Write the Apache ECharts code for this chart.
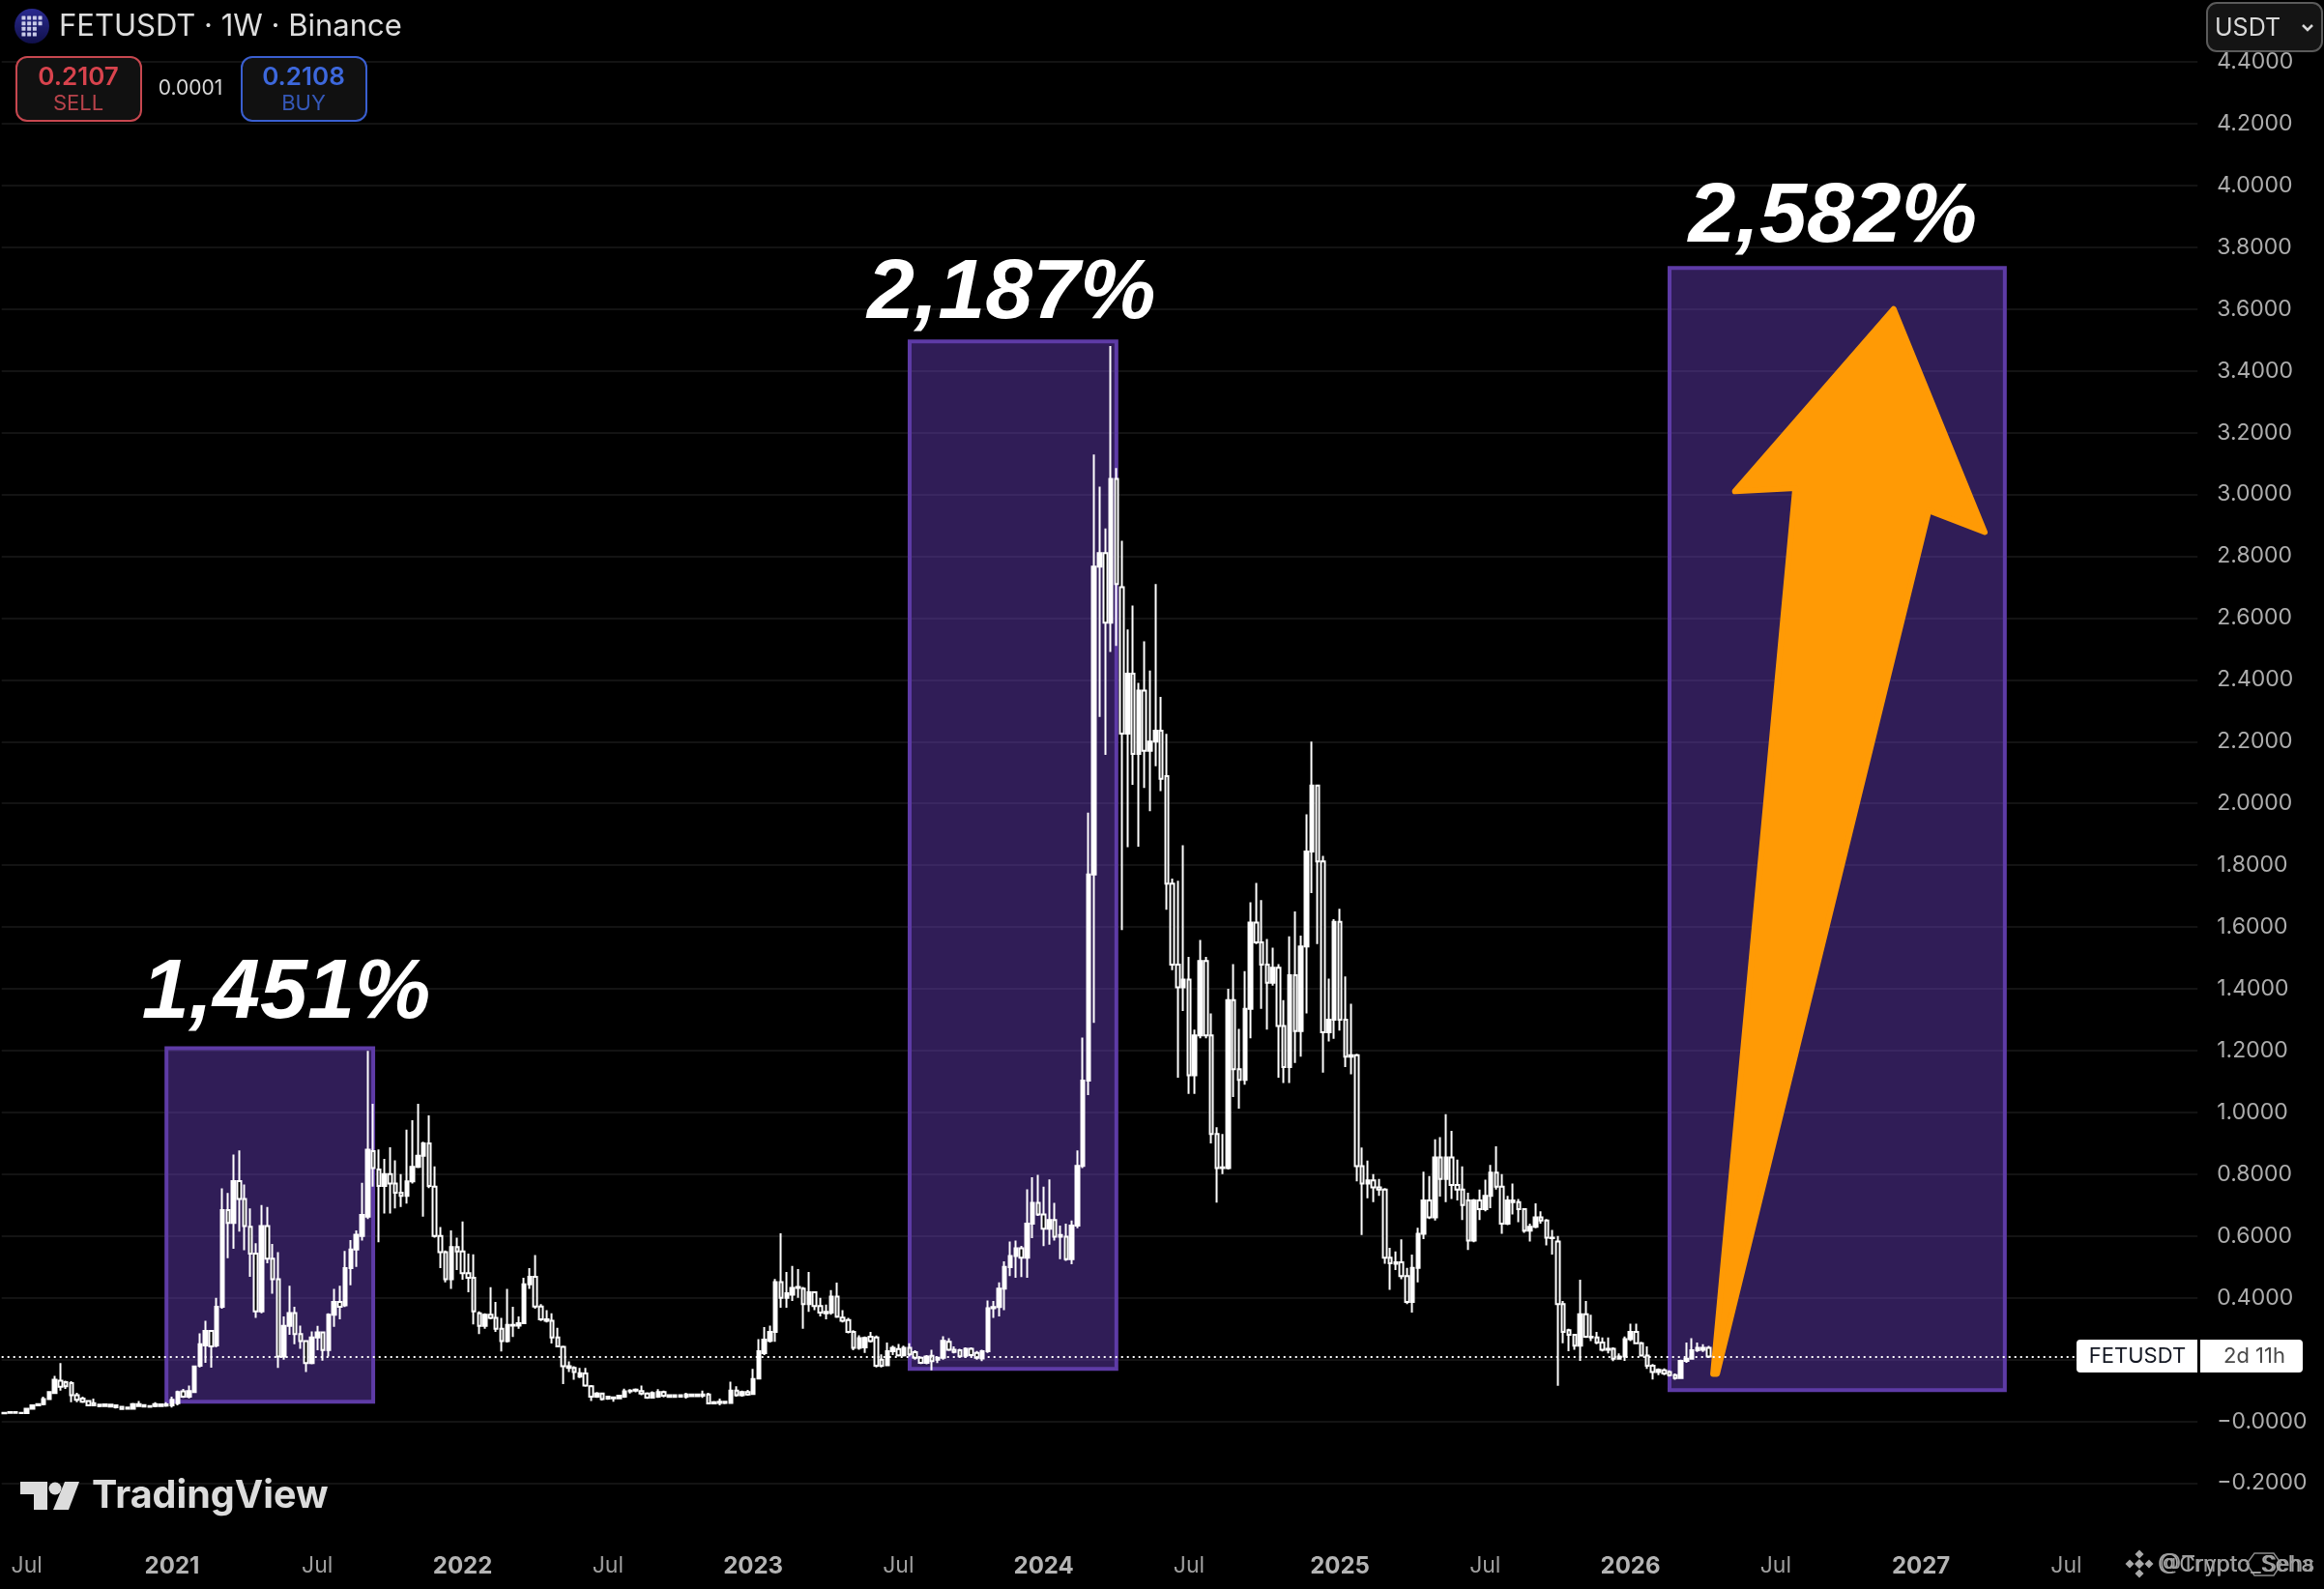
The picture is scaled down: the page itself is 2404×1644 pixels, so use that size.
<!DOCTYPE html>
<html><head><meta charset="utf-8">
<style>html,body{margin:0;padding:0;background:#000}#c{width:2404px;height:1644px}</style>
<script src="https://cdn.jsdelivr.net/npm/echarts@6/dist/echarts.min.js"></script>
</head><body><div id="c"></div>
<script>
// weekly candles: [open, close, low, high], first week starting 2020-06-08
const totalWeeks = 393;
const ohlc = [
[.026,.028,.025,.03],[.028,.03,.027,.032],[.03,.028,.027,.031],[.028,.027,.025,.03],
[.027,.041,.026,.042],[.041,.052,.04,.054],[.052,.056,.05,.058],[.056,.072,.052,.08],[.072,.095,.07,.097],
[.092,.135,.09,.147],[.132,.112,.1,.189],[.127,.114,.105,.132],[.124,.085,.062,.13],[.085,.07,.062,.093],
[.074,.064,.06,.08],[.066,.052,.05,.069],[.059,.052,.05,.074],[.054,.05,.046,.056],[.055,.05,.047,.057],
[.054,.048,.045,.056],[.052,.046,.042,.054],[.047,.04,.037,.05],[.045,.041,.038,.048],[.041,.056,.04,.06],
[.05,.056,.048,.066],[.053,.048,.046,.056],[.05,.047,.044,.052],[.05,.056,.046,.062],[.055,.05,.047,.058],
[.051,.055,.047,.062],
// 2021
[.052,.07,.045,.08],[.059,.095,.052,.1],[.097,.08,.076,.105],[.08,.098,.075,.116],[.095,.178,.093,.18],
[.18,.25,.175,.285],[.246,.293,.19,.326],[.293,.243,.174,.295],[.246,.371,.24,.40],[.371,.684,.365,.754],
[.684,.642,.528,.739],[.642,.778,.559,.864],[.778,.72,.614,.877],[.72,.632,.554,.767],[.63,.543,.468,.689],
[.543,.356,.335,.577],[.356,.632,.35,.70],[.632,.527,.512,.694],[.527,.46,.413,.574],[.46,.21,.173,.548],
[.21,.309,.2,.34],[.309,.351,.28,.439],[.351,.283,.25,.371],[.283,.26,.235,.31],[.26,.189,.16,.262],
[.189,.272,.185,.291],[.272,.288,.23,.309],[.288,.231,.197,.29],[.231,.345,.21,.35],[.345,.387,.306,.429],
[.387,.371,.33,.439],[.376,.496,.37,.552],[.496,.556,.441,.587],[.556,.604,.50,.618],[.60,.668,.585,.772],
[.663,.879,.655,1.199],[.875,.82,.76,1.028],[.815,.762,.58,.88],[.762,.80,.673,.85],[.80,.77,.673,.887],
[.77,.74,.689,.845],[.74,.73,.694,.80],[.73,.777,.705,.944],[.777,.824,.77,.975],[.824,.86,.82,1.028],
[.86,.90,.663,.905],[.90,.762,.755,.99],[.76,.60,.595,.825],
// 2022
[.60,.548,.496,.629],[.548,.46,.45,.553],[.46,.564,.429,.618],[.564,.55,.49,.595],[.55,.48,.459,.647],
[.48,.465,.418,.543],[.465,.356,.314,.541],[.35,.309,.283,.356],[.309,.345,.30,.35],[.345,.335,.33,.434],
[.335,.30,.29,.387],[.30,.26,.226,.335],[.26,.312,.255,.429],[.312,.31,.273,.371],[.31,.318,.30,.34],
[.318,.444,.315,.465],[.444,.468,.429,.496],[.468,.372,.365,.538],[.372,.33,.325,.38],[.33,.326,.32,.36],
[.326,.272,.252,.35],[.272,.243,.24,.303],[.241,.179,.121,.245],[.179,.173,.16,.194],[.173,.16,.135,.179],
[.145,.156,.14,.173],[.155,.116,.112,.173],[.114,.08,.066,.118],[.08,.09,.076,.095],[.09,.072,.068,.093],
[.08,.074,.07,.083],[.078,.075,.064,.08],[.075,.083,.073,.086],[.08,.097,.076,.106],[.097,.1,.09,.104],
[.1,.103,.094,.107],[.098,.09,.085,.116],[.09,.077,.073,.094],[.077,.092,.074,.097],[.08,.095,.076,.104],
[.095,.083,.078,.1],[.085,.079,.076,.087],[.079,.085,.077,.088],[.085,.08,.078,.087],[.08,.087,.074,.093],
[.087,.082,.079,.09],[.082,.087,.079,.09],[.083,.087,.076,.1],[.087,.058,.056,.093],[.058,.062,.055,.066],
[.06,.064,.052,.074],[.06,.064,.056,.066],[.06,.1,.058,.129],[.1,.085,.08,.114],[.085,.095,.08,.1],
[.095,.087,.083,.102],
// 2023
[.089,.137,.087,.17],[.139,.227,.137,.266],[.221,.265,.215,.305],[.261,.29,.255,.31],[.29,.451,.258,.461],
[.451,.40,.368,.609],[.40,.415,.368,.484],[.41,.432,.39,.503],[.432,.435,.40,.493],[.43,.38,.30,.435],
[.38,.418,.355,.484],[.418,.373,.36,.42],[.373,.352,.34,.40],[.355,.35,.33,.378],[.352,.404,.345,.425],
[.404,.339,.335,.449],[.336,.326,.32,.36],[.328,.29,.285,.335],[.29,.238,.23,.295],[.238,.269,.232,.279],
[.24,.27,.222,.275],[.274,.26,.255,.29],[.272,.18,.175,.278],[.2,.18,.175,.217],[.182,.227,.18,.255],
[.227,.238,.215,.245],[.234,.214,.21,.251],[.214,.238,.21,.245],[.238,.217,.21,.253],[.224,.206,.2,.23],
[.206,.19,.186,.21],[.19,.21,.185,.215],[.212,.195,.165,.232],[.2,.206,.189,.21],[.206,.261,.2,.276],
[.258,.232,.228,.269],[.232,.225,.22,.243],[.23,.211,.207,.235],[.212,.235,.205,.24],[.235,.215,.21,.24],
[.222,.206,.2,.228],[.204,.227,.195,.232],[.227,.366,.222,.391],[.366,.37,.335,.39],[.37,.43,.34,.45],
[.43,.5,.36,.518],[.499,.535,.47,.582],[.535,.56,.465,.585],[.56,.53,.467,.568],[.53,.64,.465,.751],
[.64,.707,.593,.79],[.707,.67,.665,.798],
// 2024
[.67,.624,.567,.76],[.624,.652,.572,.783],[.652,.598,.585,.707],[.598,.603,.525,.634],[.598,.525,.52,.64],
[.525,.634,.509,.65],[.634,.827,.625,.877],[.827,1.103,.82,1.242],[1.103,1.77,1.056,1.97],[1.77,2.766,1.29,3.129],
[2.766,2.81,2.28,3.025],[2.81,2.585,2.157,2.89],[2.585,3.05,2.49,3.48],[3.05,2.71,2.51,3.085],[2.70,2.226,1.59,2.85],
[2.226,2.42,1.858,2.563],[2.42,2.16,2.06,2.64],[2.16,2.365,1.86,2.39],[2.365,2.17,2.05,2.525],[2.17,2.2,1.975,2.43],
[2.2,2.235,2.12,2.71],[2.235,2.08,2.04,2.345],[2.088,1.74,1.656,2.225],[1.74,1.478,1.46,1.757],[1.478,1.405,1.112,1.75],
[1.405,1.43,1.328,1.865],[1.43,1.12,1.06,1.503],[1.12,1.249,1.06,1.268],[1.249,1.49,1.24,1.558],[1.49,1.249,1.24,1.503],
[1.249,.93,.90,1.32],[.93,.82,.708,.952],[.82,.822,.80,.93],[.82,1.363,.815,1.40],[1.363,1.14,1.05,1.48],
[1.14,1.105,1.012,1.27],[1.105,1.335,1.09,1.457],[1.335,1.614,1.24,1.68],[1.614,1.55,1.545,1.743],[1.55,1.478,1.335,1.687],
[1.478,1.42,1.268,1.561],[1.42,1.468,1.41,1.533],[1.468,1.28,1.112,1.48],[1.28,1.147,1.095,1.363],[1.147,1.444,1.095,1.57],
[1.444,1.263,1.16,1.65],[1.263,1.537,1.18,1.572],[1.537,1.844,1.32,1.965],[1.844,2.058,1.71,2.2],[2.058,1.812,1.545,2.06],
[1.812,1.259,1.129,1.83],
// 2025
[1.259,1.3,1.23,1.433],[1.3,1.617,1.238,1.625],[1.617,1.30,1.265,1.659],[1.30,1.18,1.147,1.44],[1.18,1.185,1.123,1.352],
[1.185,.826,.777,1.19],[.826,.77,.603,.886],[.77,.78,.722,.844],[.78,.757,.71,.80],[.757,.75,.73,.785],
[.75,.53,.51,.755],[.53,.512,.426,.562],[.515,.51,.49,.55],[.515,.47,.46,.589],[.47,.387,.38,.497],
[.387,.497,.352,.54],[.497,.607,.45,.627],[.607,.715,.59,.808],[.715,.66,.655,.794],[.66,.854,.65,.913],
[.854,.785,.728,.92],[.785,.854,.71,.994],[.854,.765,.72,.94],[.765,.75,.715,.847],[.75,.70,.652,.825],
[.715,.585,.555,.74],[.585,.715,.58,.72],[.715,.687,.652,.75],[.687,.73,.68,.782],[.73,.805,.69,.83],
[.805,.76,.75,.89],[.76,.64,.607,.80],[.64,.715,.635,.73],[.715,.71,.67,.77],[.71,.687,.645,.72],
[.687,.617,.61,.69],[.617,.63,.582,.64],[.63,.66,.625,.706],[.66,.65,.64,.68],[.65,.595,.57,.655],
[.595,.593,.54,.62],[.582,.38,.115,.60],[.38,.29,.253,.39],[.295,.28,.227,.30],[.28,.245,.232,.28],
[.245,.347,.196,.459],[.347,.274,.27,.39],[.274,.272,.26,.345],[.272,.255,.25,.29],[.255,.232,.226,.272],
[.232,.235,.22,.272],[.235,.203,.195,.24],
// 2026
[.203,.21,.2,.22],[.21,.266,.196,.275],[.266,.29,.26,.316],[.29,.253,.25,.316],[.253,.213,.21,.258],
[.213,.18,.17,.243],[.18,.16,.136,.186],[.16,.167,.15,.172],[.165,.155,.15,.172],[.16,.15,.145,.165],
[.15,.14,.135,.155],[.14,.196,.138,.2],[.196,.203,.19,.255],[.203,.23,.2,.269],[.23,.238,.225,.255],
[.238,.232,.225,.25],[.238,.21,.205,.244],[.21,.2107,.2,.215]
];
const lastPrice = 0.2107;
// the three highlighted rallies
const boxStartWeeks = ['2020-12-28', '2023-07-17', '2026-02-23'];
const boxEndWeeks   = ['2021-09-13', '2024-04-01', '2027-04-19'];
const boxTops    = [1.208, 3.495, 3.733];
const boxBottoms = [0.064, 0.17, 0.1016];
// callouts: week position (weeks since 2021-01-04), price, text
const calloutWeeks  = [20.4, 150.2, 297.2];
const calloutPrices = [1.381, 3.647, 3.893];
const calloutTexts  = ['1,451%', '2,187%', '2,582%'];
// projection arrow vertices: weeks since 2021-01-04, price
const arrowWeeks  = [308.1, 324.4, 314.4, 276.5, 275.8, 290.5, 279.7];
const arrowPrices = [3.6, 2.878, 2.948, 0.154, 0.154, 3.02, 3.01];
const xTickDates  = ['2020-07-06','2021-01-04','2021-07-05','2022-01-03','2022-07-04','2023-01-02','2023-07-03','2024-01-01','2024-07-01','2025-01-06','2025-07-07','2026-01-05','2026-07-06','2027-01-04','2027-07-05'];
const xTickLabels = ['Jul','2021','Jul','2022','Jul','2023','Jul','2024','Jul','2025','Jul','2026','Jul','2027','Jul'];

const WEEK_PX = 5.78, ORIGIN = -30.5;  // first band edge, in weeks from 2021-01-04
const categories = [];
for (let k = 0; k < totalWeeks; k++) {
  categories.push(new Date(Date.UTC(2020, 5, 8 + 7 * k)).toISOString().slice(0, 10));
}
const tickMap = {};
xTickDates.forEach((d, i) => tickMap[d] = xTickLabels[i]);

const FONT = 'Inter';
const chart = echarts.init(document.getElementById('c'), null, {renderer: 'canvas', width: 2404, height: 1644});

function T(x, y, text, size, fill, weight, align, z) {
  return {type: 'text', x, y, z: z || 100, silent: true,
    style: {text, fill, font: `${weight || 400} ${size}px ${FONT}`, align: align || 'left', verticalAlign: 'middle'}};
}
function R(x, y, w, h, r, fill, stroke, lw, z) {
  return {type: 'rect', z: z || 99, silent: true, shape: {x, y, width: w, height: h, r},
    style: {fill, stroke: stroke || 'transparent', lineWidth: lw || 0}};
}
function P(points, fill, z) {
  return {type: 'polygon', z: z || 100, silent: true, shape: {points}, style: {fill}};
}
function D(cx, cy, s, fill, z) {
  return P([[cx, cy - s], [cx + s, cy], [cx, cy + s], [cx - s, cy]], fill, z);
}

const dots = [];
[[-9,-9],[-3,-9],[3,-9],[9,-9],[-9,-3],[-3,-3],[3,-3],[9,-3],[-9,3],[-3,3],[3,3],[-9,9],[-3,9],[3,9]].forEach(d => {
  dots.push(R(33 + d[0] * 0.95 - 2, 27 + d[1] * 0.95 - 2, 4, 4, 0.5, '#c9cbe8', null, 0, 101));
});

const graphics = [
  {type: 'circle', z: 100, silent: true, shape: {cx: 33, cy: 27, r: 18},
   style: {fill: new echarts.graphic.LinearGradient(0, 0, 0, 1, [{offset: 0, color: '#2a2a90'}, {offset: 1, color: '#10104a'}])}},
  ...dots,
  T(61, 28, 'FETUSDT · 1W · Binance', 31, '#dedede'),
  R(17, 59, 129, 66, 11, '#111111', '#c7474f', 2),
  T(81, 80, '0.2107', 26, '#d8434d', 600, 'center'),
  T(81, 107, 'SELL', 22, '#b8434b', 400, 'center'),
  T(197, 92, '0.0001', 21, '#d8d8d8', 400, 'center'),
  R(250, 59, 129, 66, 11, '#111111', '#3a5fd0', 2),
  T(314, 80, '0.2108', 26, '#3d68dc', 600, 'center'),
  T(314, 107, 'BUY', 22, '#3558b8', 400, 'center'),
  R(2283, 3, 119, 50, 10, '#141414', '#5a5a5a', 2),
  T(2291, 29, 'USDT', 25, '#d8d8d8'),
  {type: 'polyline', z: 101, silent: true, shape: {points: [[2382, 26], [2387, 31], [2392, 26]]},
   style: {stroke: '#d8d8d8', lineWidth: 2.5, fill: null}},
  R(2148, 1386, 234, 34, 4, '#ffffff'),
  R(2273, 1386, 3, 34, 0, '#000000', null, 0, 100),
  T(2211, 1403, 'FETUSDT', 22, '#131722', 400, 'center', 101),
  T(2332, 1403, '2d 11h', 22, '#4a4a4a', 400, 'center', 101),
  P([[21,1533],[49,1533],[49,1562],[35,1562],[35,1546],[21,1546]], '#dcdcdc'),
  {type: 'circle', z: 100, silent: true, shape: {cx: 57, cy: 1540, r: 6.5}, style: {fill: '#dcdcdc'}},
  P([[67,1533],[82,1533],[71,1562],[55,1562]], '#dcdcdc'),
  T(95, 1548, 'TradingView', 39.5, '#dcdcdc', 700),
  // watermark
  D(2213, 1618, 5, '#a8a8a8'), D(2213, 1608, 4.5, '#a8a8a8'), D(2213, 1628, 4.5, '#a8a8a8'),
  D(2203, 1618, 4.5, '#a8a8a8'), D(2223, 1618, 4.5, '#a8a8a8'),
  {type: 'polygon', z: 100, silent: true, shape: {points: [[2332,1607],[2352,1607],[2360,1618],[2352,1630],[2332,1630],[2324,1618]]},
   style: {fill: null, stroke: '#8a8a8a', lineWidth: 1.5}},
  T(2232, 1619, '@Crypto_Seha', 23, '#a8a8a8', 400, 'left', 102),
  T(2234, 1619, '@Trnpto  Sehs', 23, '#9c9c9c', 400, 'left', 102)
];

chart.setOption({
  animation: false,
  backgroundColor: '#000000',
  grid: {left: 1.7, top: -1.5, width: totalWeeks * WEEK_PX, height: 1600, containLabel: false},
  xAxis: [{
    type: 'category', data: categories, boundaryGap: true,
    axisLine: {show: false}, axisTick: {show: false}, splitLine: {show: false},
    axisLabel: {
      interval: (idx, val) => tickMap[val] !== undefined,
      hideOverlap: false, margin: 10,
      formatter: val => {
        const t = tickMap[val];
        if (t === undefined) return '';
        return t === 'Jul' ? '{m|' + t + '}' : '{y|' + t + '}';
      },
      rich: {
        m: {fontFamily: FONT, fontSize: 23, color: '#9f9f9f', fontWeight: 400},
        y: {fontFamily: FONT, fontSize: 24, color: '#b4b4b4', fontWeight: 700}
      }
    }
  }, {
    type: 'value', show: false, min: ORIGIN, max: ORIGIN + totalWeeks, splitLine: {show: false}
  }],
  yAxis: {
    type: 'value', position: 'right', min: -0.4, max: 4.6, interval: 0.2,
    axisLine: {show: false}, axisTick: {show: false},
    splitLine: {show: true, showMinLine: false, showMaxLine: false, lineStyle: {color: '#131313', width: 2}},
    axisLabel: {
      showMinLabel: false, showMaxLabel: false, margin: 20, align: 'left',
      fontFamily: FONT, fontSize: 23, color: '#adadad',
      formatter: v => {
        const r = Math.round(v * 10) / 10;
        return (r <= 0 ? '\u2212' : '') + Math.abs(r).toFixed(4);
      }
    }
  },
  series: [{
    type: 'candlestick',
    barWidth: 4,
    data: ohlc,
    itemStyle: {color: '#ffffff', color0: '#000000', borderColor: '#ffffff', borderColor0: '#ffffff', borderWidth: 2},
    markArea: {
      silent: true, z: 1,
      itemStyle: {color: 'rgba(103,62,184,0.47)', borderColor: '#5e3ba6', borderWidth: 4},
      data: boxTops.map((t, i) => [
        {xAxis: boxStartWeeks[i], yAxis: t},
        {xAxis: boxEndWeeks[i], yAxis: boxBottoms[i]}
      ])
    },
    markLine: {
      silent: true, symbol: 'none', z: 5,
      lineStyle: {color: '#ffffff', type: [2, 4], width: 2},
      label: {show: false},
      data: [{yAxis: lastPrice}]
    }
  }, {
    type: 'custom', xAxisIndex: 1, z: 4, silent: true, clip: false,
    data: [[arrowWeeks[0], arrowPrices[0]]],
    renderItem: (params, api) => ({
      type: 'polygon',
      shape: {points: arrowWeeks.map((w, i) => api.coord([w, arrowPrices[i]]))},
      style: {fill: '#ff9a05', stroke: '#ff9a05', lineWidth: 6, lineJoin: 'round'}
    })
  }, {
    type: 'scatter', xAxisIndex: 1, z: 6, silent: true, symbolSize: 0,
    itemStyle: {opacity: 1},
    data: calloutWeeks.map((w, i) => ({value: [w, calloutPrices[i]], name: calloutTexts[i]})),
    label: {
      show: true, position: 'inside', formatter: p => p.name, color: '#ffffff', opacity: 1,
      fontFamily: 'Liberation Sans', fontSize: 88, fontWeight: 'bold', fontStyle: 'italic'
    }
  }],
  graphic: graphics
});
</script></body></html>
